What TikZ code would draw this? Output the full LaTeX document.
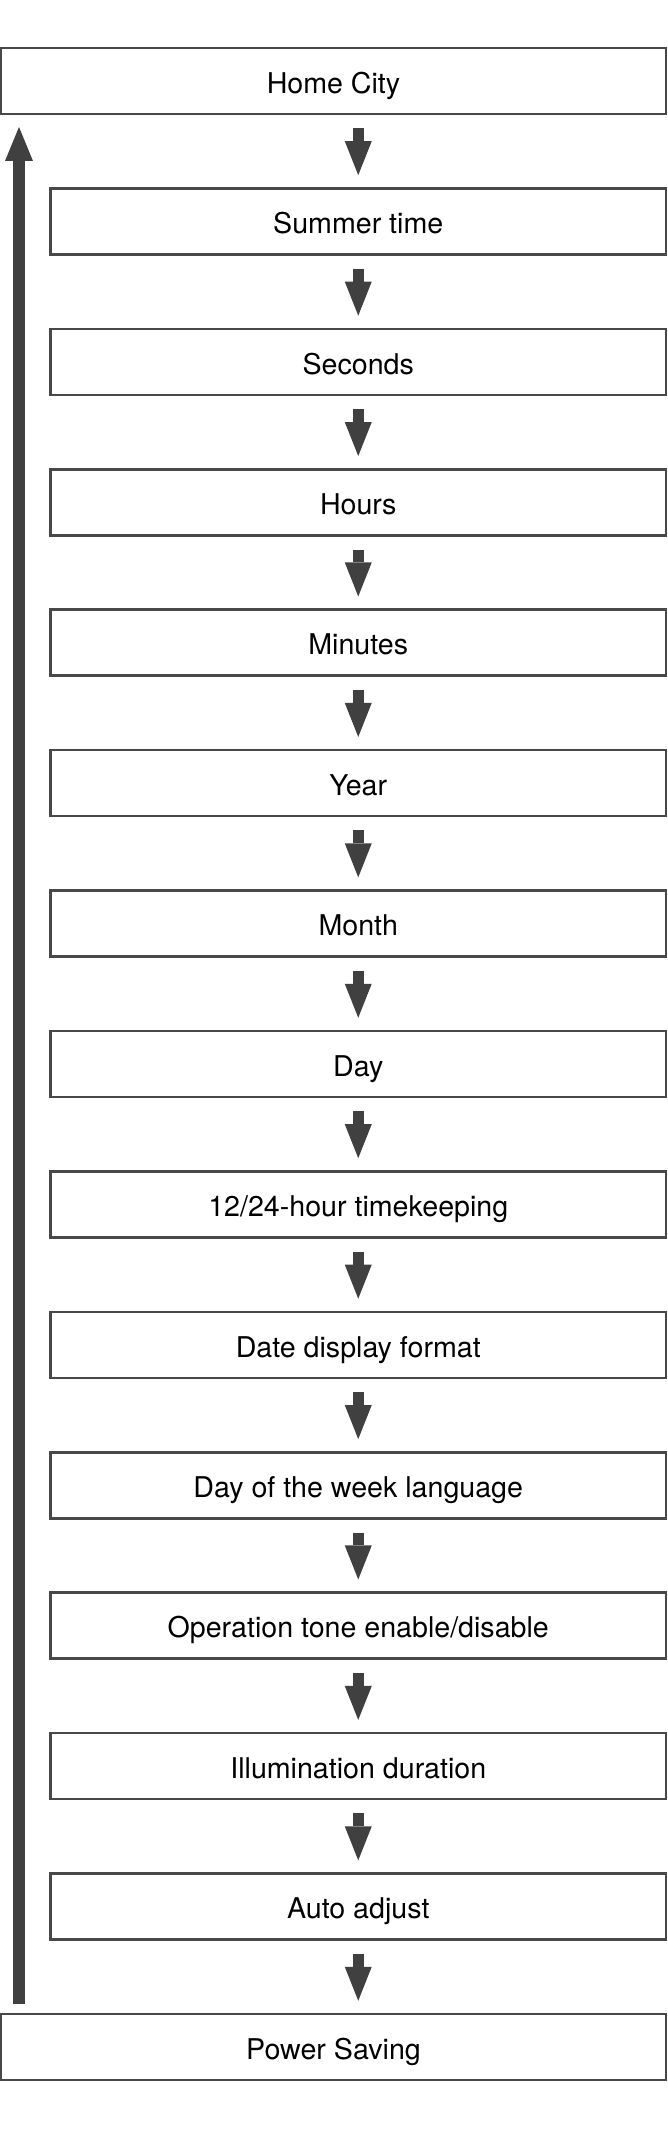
\documentclass[tikz,border=0pt]{standalone}
\usepackage{fontspec}
\setmainfont{TeX Gyre Heros}
\usetikzlibrary{arrows.meta}
\definecolor{boxgray}{RGB}{72,72,72}
\definecolor{arrowgray}{RGB}{64,64,64}
\tikzset{
  widebox/.style={draw=boxgray, line width=2.5pt, inner sep=0pt,
    minimum width=665pt, minimum height=66pt,
    text height=24.5pt, text depth=0pt,
    font=\fontsize{28.6}{34}\selectfont},
  stepbox/.style={widebox, minimum width=615.5pt},
  flow/.style={draw=arrowgray, line width=11.5pt,
    -{Triangle[width=27pt,length=34pt,line width=0pt]},
    shorten <=13pt, shorten >=12pt},
}

\begin{document}
\begin{tikzpicture}[x=1pt, y=1pt]
      \useasboundingbox (0, 0) rectangle (668, -2135);
      \node[widebox] (hc) at (333.5, -81) {Home City};
      \node[stepbox] (st) at (358.25, -221.4) {Summer time};
      \node[stepbox] (sec) at (358.25, -361.9) {Seconds};
      \node[stepbox] (hr) at (358.25, -502.3) {Hours};
      \node[stepbox] (min) at (358.25, -642.7) {Minutes};
      \node[stepbox] (yr) at (358.25, -783.2) {Year};
      \node[stepbox] (mon) at (358.25, -923.6) {Month};
      \node[stepbox] (day) at (358.25, -1064) {Day};
      \node[stepbox] (hfmt) at (358.25, -1204.4) {12/24-hour timekeeping};
      \node[stepbox] (dfmt) at (358.25, -1344.9) {Date display format};
      \node[stepbox] (dlang) at (358.25, -1485.3) {Day of the week language};
      \node[stepbox] (tone) at (358.25, -1625.7) {Operation tone enable/disable};
      \node[stepbox] (illum) at (358.25, -1766.2) {Illumination duration};
      \node[stepbox] (aa) at (358.25, -1906.6) {Auto adjust};
      \node[widebox] (ps) at (333.5, -2047) {Power Saving};
      % down the list
      \draw[flow] (hc.south -| st) -- (st);
      \draw[flow] (st) -- (sec);
      \draw[flow] (sec) -- (hr);
      \draw[flow] (hr) -- (min);
      \draw[flow] (min) -- (yr);
      \draw[flow] (yr) -- (mon);
      \draw[flow] (mon) -- (day);
      \draw[flow] (day) -- (hfmt);
      \draw[flow] (hfmt) -- (dfmt);
      \draw[flow] (dfmt) -- (dlang);
      \draw[flow] (dlang) -- (tone);
      \draw[flow] (tone) -- (illum);
      \draw[flow] (illum) -- (aa);
      \draw[flow] (aa) -- (aa |- ps.north);
      % back to the top
      \coordinate (loopfoot) at (19, -2004);
      \coordinate (loophead) at (19, -127);
      \draw[flow, line width=12pt, shorten <=0pt, shorten >=0pt,
        -{Triangle[width=28pt,length=34pt,line width=0pt]}] (loopfoot) -- (loophead);
    \end{tikzpicture}
\end{document}
